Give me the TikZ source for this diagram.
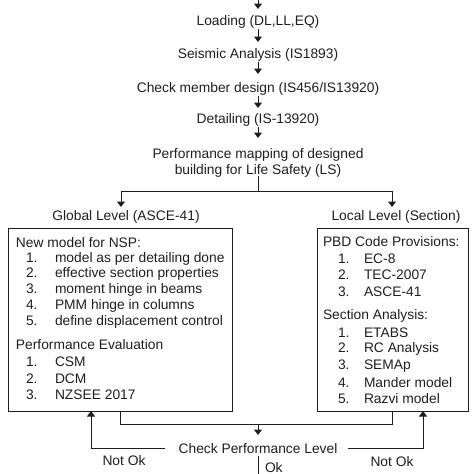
\documentclass[tikz,border=0pt]{standalone}
\usepackage{fontspec}
\setmainfont{Liberation Sans}
\usetikzlibrary{arrows.meta}
\definecolor{ink}{RGB}{30,30,30}
\begin{document}
\begin{tikzpicture}[x=1pt,y=-1pt,
  every node/.style={inner sep=0pt, outer sep=0pt, font=\fontsize{13.8}{16}\selectfont, text=ink},
  lbl/.style={anchor=base},
  lblw/.style={anchor=base west},
  line/.style={draw=ink, line width=1pt},
  arr/.style={line, -{Triangle[width=8pt,length=5.5pt]}},
  panel/.style={draw=ink, line width=1pt, minimum height=183pt}
]
\useasboundingbox (0,0) rectangle (474,474);
% main chain
\coordinate (top) at (258,0);
\node[lbl] (load)   at (258,25)  {Loading (DL,LL,EQ)};
\node[lbl] (seis)   at (258,58)  {Seismic Analysis (IS1893)};
\node[lbl] (cmd)    at (258,92)  {Check member design (IS456/IS13920)};
\node[lbl] (detail) at (258,123) {Detailing (IS-13920)};
\node[lbl] (perfa)  at (258,158) {Performance mapping of designed};
\node[lbl] (perfb)  at (258,174) {building for Life Safety (LS)};
\draw[arr, shorten >=6pt] (top) -- (load.north);
\draw[arr, shorten <=1pt, shorten >=6pt] (load.south) -- (seis.north);
\draw[arr, shorten <=1pt, shorten >=8pt] (seis.south) -- (cmd.north);
\draw[arr, shorten <=1pt, shorten >=5pt] (cmd.south) -- (detail.north);
\draw[arr, shorten <=1pt, shorten >=10pt] (detail.south) -- (perfa.north);
% branch
\node[lbl] (glob) at (126,220) {Global Level (ASCE-41)};
\node[lbl] (loc)  at (396,220) {Local Level (Section)};
\coordinate (br) at (258,191);
\coordinate (gtip) at (121,207);
\coordinate (rtip) at (392,207);
\draw[line, shorten <=-1pt] (perfb.south) -- (br);
\draw[arr] (br) -| (gtip);
\draw[arr] (br) -| (rtip);
% boxes
\node[panel, minimum width=224pt] (lbox) at (120,319.5) {};
\node[panel, minimum width=151pt] (rbox) at (392.5,319.5) {};
% left box content
\node[lblw] (nsp) at (16,247) {New model for NSP:};
\node[lblw] (ln1) at (26,262) {1.};
\node[lblw] (lt1) at (55,262) {model as per detailing done};
\node[lblw] (ln2) at (26,277) {2.};
\node[lblw] (lt2) at (55,277) {effective section properties};
\node[lblw] (ln3) at (26,293) {3.};
\node[lblw] (lt3) at (55,293) {moment hinge in beams};
\node[lblw] (ln4) at (26,309) {4.};
\node[lblw] (lt4) at (55,309) {PMM hinge in columns};
\node[lblw] (ln5) at (26,325) {5.};
\node[lblw] (lt5) at (55,325) {define displacement control};
\node[lblw] (pev) at (16,349) {Performance Evaluation};
\node[lblw] (pn1) at (26,366) {1.};
\node[lblw] (pt1) at (55,366) {CSM};
\node[lblw] (pn2) at (26,383) {2.};
\node[lblw] (pt2) at (55,383) {DCM};
\node[lblw] (pn3) at (26,399) {3.};
\node[lblw] (pt3) at (55,399) {NZSEE 2017};
% right box content
\node[lblw] (pbd) at (323,246) {PBD Code Provisions:};
\node[lblw] (rn1) at (338,263) {1.};
\node[lblw] (rt1) at (364,263) {EC-8};
\node[lblw] (rn2) at (338,279) {2.};
\node[lblw] (rt2) at (364,279) {TEC-2007};
\node[lblw] (rn3) at (338,296) {3.};
\node[lblw] (rt3) at (364,296) {ASCE-41};
\node[lblw] (sec) at (323,319) {Section Analysis:};
\node[lblw] (sn1) at (338,337) {1.};
\node[lblw] (st1) at (364,337) {ETABS};
\node[lblw] (sn2) at (338,352) {2.};
\node[lblw] (st2) at (364,352) {RC Analysis};
\node[lblw] (sn3) at (338,369) {3.};
\node[lblw] (st3) at (364,369) {SEMAp};
\node[lblw] (sn4) at (338,387) {4.};
\node[lblw] (st4) at (364,387) {Mander model};
\node[lblw] (sn5) at (338,403) {5.};
\node[lblw] (st5) at (364,403) {Razvi model};
% bottom
\node[lbl] (cpl) at (258,453) {Check Performance Level};
\coordinate (lj) at (120,424);
\coordinate (rj) at (392,424);
\coordinate (mj) at (258,424);
\draw[line] (lbox.south) -- (lj) -- (rj) -- (rj |- rbox.south);
\draw[arr, shorten >=8pt] (mj) -- (cpl.north);
\coordinate (lup) at (91,411);
\coordinate (rup) at (423,411);
\draw[arr] ([xshift=-14pt]cpl.west) -| (lup);
\draw[arr] ([xshift=11pt]cpl.east) -| (rup);
\node[lbl] (notl) at (124,465) {Not Ok};
\node[lbl] (notr) at (392,466) {Not Ok};
\coordinate (okend) at (258,474);
\draw[line, shorten <=3pt] (cpl.south) -- (okend);
\node[lblw] (ok) at (265,472) {Ok};
\end{tikzpicture}
\end{document}
